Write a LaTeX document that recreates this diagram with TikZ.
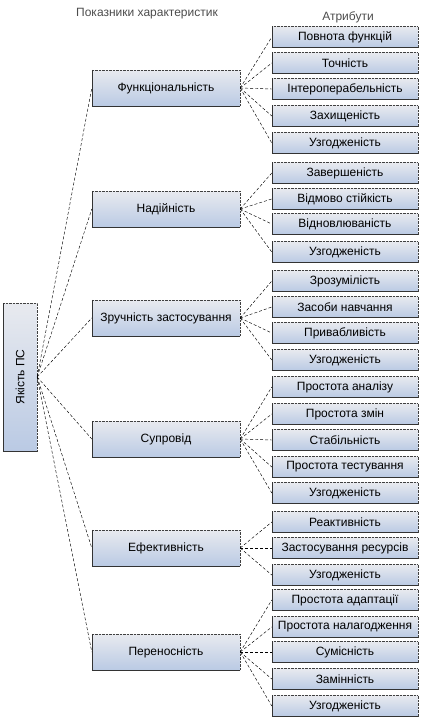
\documentclass[tikz,border=0pt]{standalone}
\usepackage{fontspec}
\setmainfont{Liberation Sans}
\definecolor{boxtop}{HTML}{E8EAEF}
\definecolor{boxbot}{HTML}{BACAE4}
\tikzset{
  box/.style={top color=boxtop, bottom color=boxbot, draw=black!75, densely dotted,
    inner sep=0pt, font=\fontsize{12}{14}\selectfont,
    append after command={(\tikzlastnode.north west) edge[solid, draw=black!80, line width=0.6pt]
      (\tikzlastnode.south west) (\tikzlastnode.south west) edge[solid, draw=black!80, line width=0.6pt]
      (\tikzlastnode.south east)}},
  charbox/.style={box, minimum width=148, minimum height=36},
  attrbox/.style={box, minimum width=146, minimum height=21},
  link/.style={densely dashed, line width=0.45pt, draw=black},
  head/.style={font=\fontsize{12}{14}\selectfont, text=black!70}
}
\begin{document}
\begin{tikzpicture}[x=1pt,y=-1pt]
  \useasboundingbox (0,0) rectangle (422,720);
  % headers
  \node[head] (hchar) at (147,14) {Показники характеристик};
  \node[head] (hattr) at (348,17) {Атрибути};
  % quality
  \node[box, minimum width=34, minimum height=148] (q) at (20,377) {\rotatebox{90}{Якість ПС}};
  % characteristics
  \node[charbox] (c1) at (166,88) {Функціональність};
  \node[charbox] (c2) at (166,209) {Надійність};
  \node[charbox] (c3) at (166,318) {Зручність застосування};
  \node[charbox] (c4) at (166,439) {Супровід};
  \node[charbox] (c5) at (166,548) {Ефективність};
  \node[charbox] (c6) at (166,652) {Переносність};
  % attributes
  \node[attrbox] (a1) at (345,37) {Повнота функцій};
  \node[attrbox] (a2) at (345,63) {Точність};
  \node[attrbox] (a3) at (345,89) {Інтероперабельність};
  \node[attrbox] (a4) at (345,116) {Захищеність};
  \node[attrbox] (a5) at (345,143) {Узгодженість};
  \node[attrbox] (a6) at (345,173) {Завершеність};
  \node[attrbox] (a7) at (345,199) {Відмово стійкість};
  \node[attrbox] (a8) at (345,224) {Відновлюваність};
  \node[attrbox] (a9) at (345,252) {Узгодженість};
  \node[attrbox] (a10) at (345,281) {Зрозумілість};
  \node[attrbox] (a11) at (345,307) {Засоби навчання};
  \node[attrbox] (a12) at (345,333) {Привабливість};
  \node[attrbox] (a13) at (345,360) {Узгодженість};
  \node[attrbox] (a14) at (345,387) {Простота аналізу};
  \node[attrbox] (a15) at (345,414) {Простота змін};
  \node[attrbox] (a16) at (345,440) {Стабільність};
  \node[attrbox] (a17) at (345,467) {Простота тестування};
  \node[attrbox] (a18) at (345,493) {Узгодженість};
  \node[attrbox] (a19) at (345,522) {Реактивність};
  \node[attrbox] (a20) at (345,548) {Застосування ресурсів};
  \node[attrbox] (a21) at (345,575) {Узгодженість};
  \node[attrbox] (a22) at (345,600) {Простота адаптації};
  \node[attrbox] (a23) at (345,627) {Простота налагодження};
  \node[attrbox] (a24) at (345,652) {Сумісність};
  \node[attrbox] (a25) at (345,679) {Замінність};
  \node[attrbox] (a26) at (345,706) {Узгодженість};
  % links
  \foreach \c in {1,...,6}
    \draw[link] (q.east) -- (c\c.west);
  \foreach \c/\a in {1/1,1/2,1/3,1/4,1/5,2/6,2/7,2/8,2/9,3/10,3/11,3/12,3/13,
      4/14,4/15,4/16,4/17,4/18,5/19,5/20,5/21,6/22,6/23,6/24,6/25,6/26}
    \draw[link] (c\c.east) -- (a\a.west);
\end{tikzpicture}
\end{document}
